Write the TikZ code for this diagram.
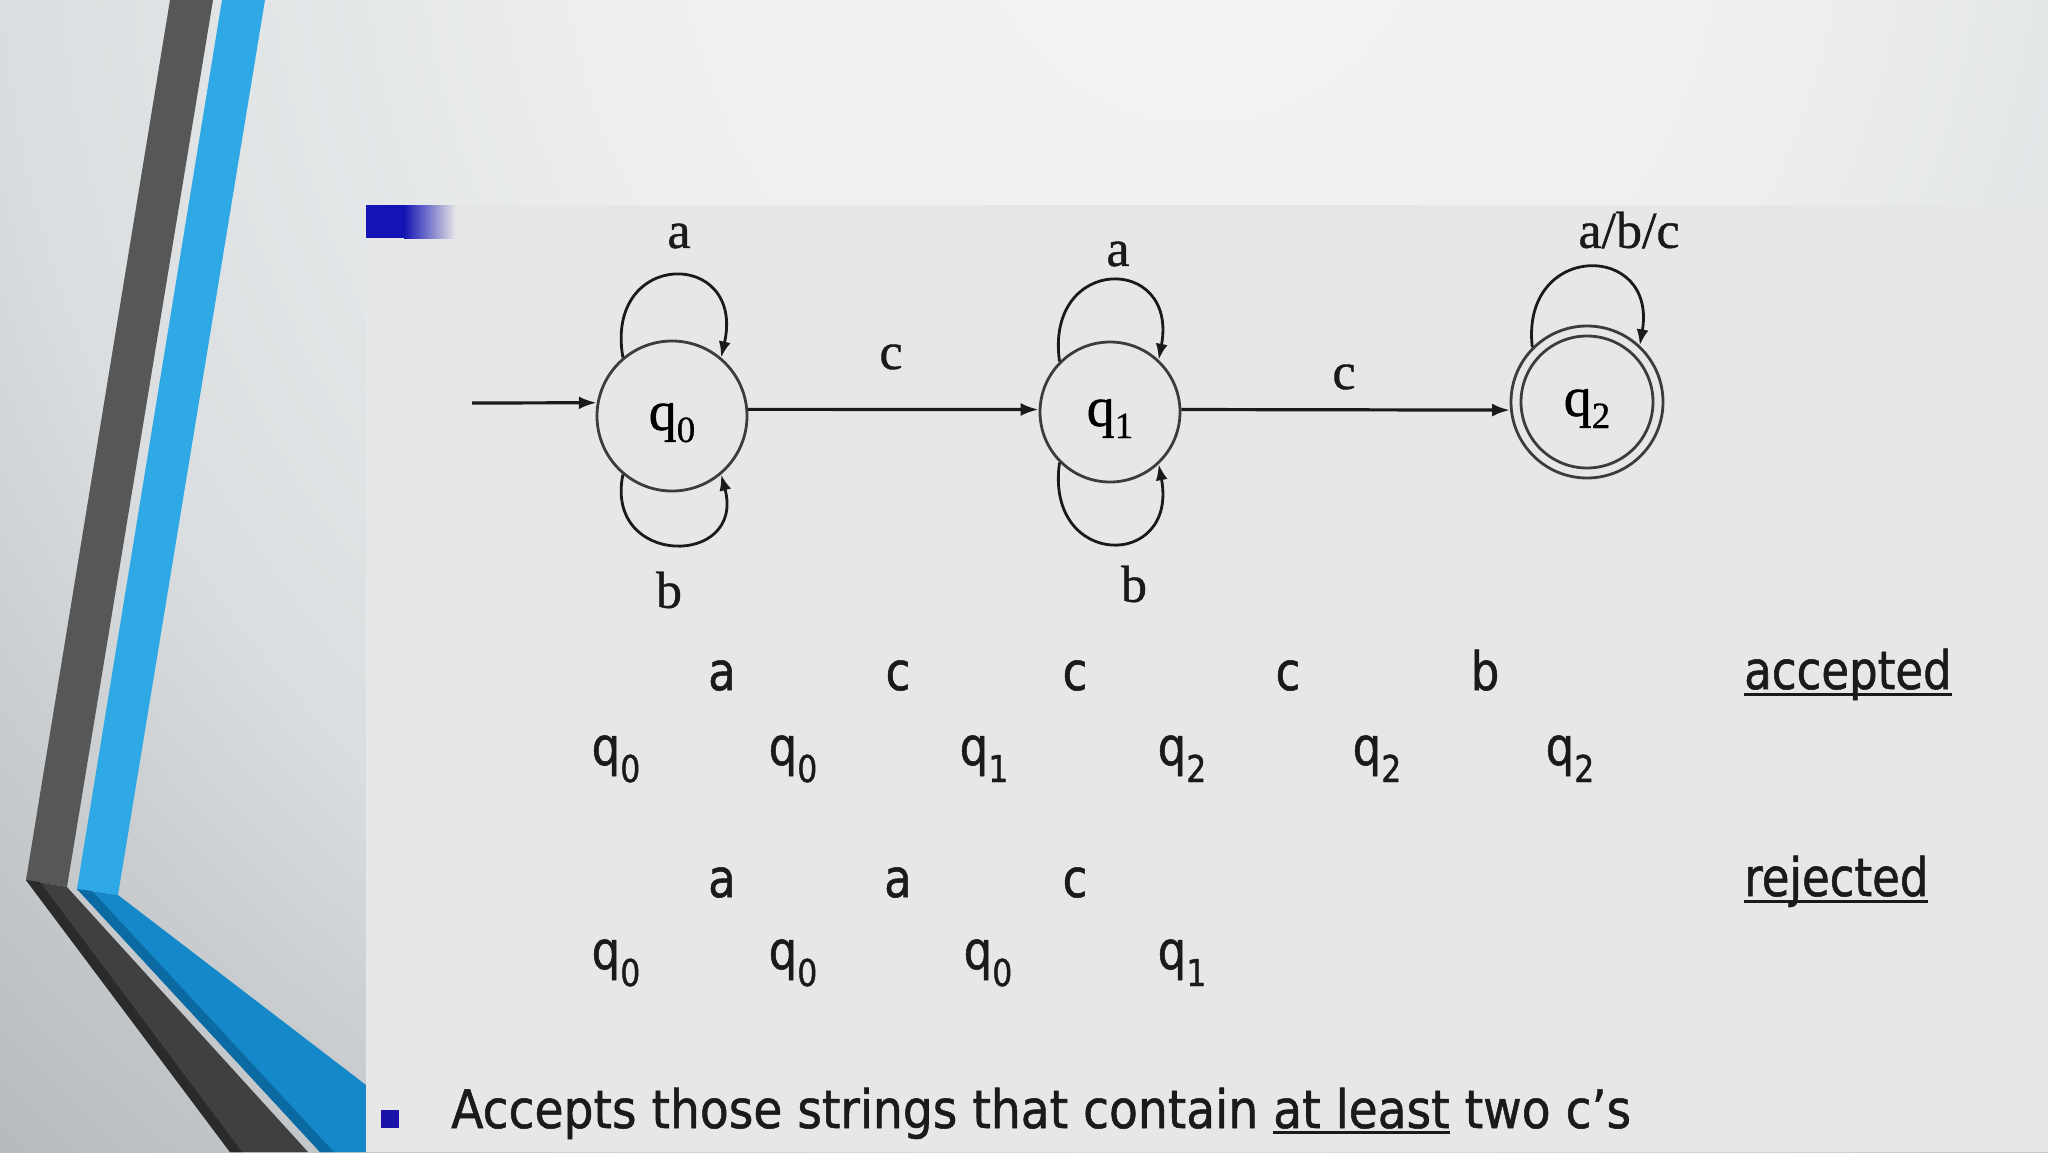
\documentclass[tikz,border=0pt]{standalone}
\usepackage{fontspec}
\setmainfont{Liberation Serif}
\newfontfamily\tms[FakeBold=0.8]{Liberation Serif}
\newfontfamily\tahA[FakeStretch=0.89,FakeBold=1]{DejaVu Sans}
\newfontfamily\tahB[FakeStretch=0.85,FakeBold=1]{DejaVu Sans}
\usetikzlibrary{arrows.meta}
\definecolor{bgA}{HTML}{F3F3F3}
\definecolor{bgB}{HTML}{EEEFEF}
\definecolor{bgC}{HTML}{E5E8E9}
\definecolor{bgD}{HTML}{DADEE0}
\definecolor{bgE}{HTML}{CBCFD1}
\definecolor{bgF}{HTML}{B5B9BC}
\definecolor{panel}{HTML}{E7E7E7}
\definecolor{darkA}{HTML}{575757}
\definecolor{darkB}{HTML}{404040}
\definecolor{darkC}{HTML}{2A2A2A}
\definecolor{blueA}{HTML}{2EA9E6}
\definecolor{blueB}{HTML}{1488C8}
\definecolor{blueC}{HTML}{0C6AA2}
\definecolor{sqblue}{HTML}{1414B4}
\definecolor{bullet}{HTML}{1A12A8}
\definecolor{ink}{HTML}{1A1A1A}
% half-size of the shaded path = 25bp; path half-size 1300pt -> 1bp = 52pt
\pgfdeclareradialshading{bgshade}{\pgfpoint{0bp}{0bp}}{color(0bp)=(bgA); color(11.5bp)=(bgB); color(16.3bp)=(bgC); color(23bp)=(bgD); color(27bp)=(bgE); color(33.7bp)=(bgF); color(50bp)=(bgF)}
\newcommand\myul[2]{\setbox0\hbox{#2}\rlap{\rule[-#1]{\wd0}{3.4pt}}\box0\relax}
\newcommand\tq[1]{q\raisebox{-17pt}{\fontsize{37}{37}\selectfont #1}}
\newcommand\sq[1]{q\raisebox{-12pt}{\fontsize{37}{37}\selectfont #1}}
\begin{document}
\begin{tikzpicture}[x=1pt,y=-1pt,
  state/.style={circle,draw=ink!85,line width=2.8pt,inner sep=0pt,text height=40pt,text depth=12pt,font=\tms\fontsize{56}{56}\selectfont},
  arr/.style={line width=3.2pt,draw=ink,-{Latex[length=18pt,width=13pt]}},
  looparr/.style={line width=2.8pt,draw=ink,-{Latex[length=16pt,width=12pt]}},
  lbl/.style={font=\tms\fontsize{52}{52}\selectfont,inner sep=0pt,text=ink},
  sym/.style={font=\tahB\fontsize{53}{53}\selectfont,anchor=base,inner sep=0pt,text=ink}]
\useasboundingbox (0,0) rectangle (2048,1152);
% background
\begin{scope}
\clip (0,0) rectangle (2048,1152);
\shade[shading=bgshade] (-100,-1400) rectangle (2500,1200);
\end{scope}
% stripes
\fill[darkA] (170,0) -- (213,0) -- (67,887) -- (26,880) -- cycle;
\fill[blueA] (222,0) -- (265,0) -- (118,895) -- (77,889) -- cycle;
\fill[darkB] (26,880) -- (67,887) -- (308,1152) -- (230,1152) -- cycle;
\fill[darkC] (26,880) -- (230,1152) -- (242,1152) -- (40,882) -- cycle;
\fill[blueB] (77,889) -- (118,895) -- (366,1085) -- (366,1152) -- (320,1152) -- cycle;
\fill[blueC] (77,889) -- (320,1152) -- (334,1152) -- (92,891) -- cycle;
% panel
\fill[panel] (366,205) rectangle (2048,1152);
\fill[sqblue] (366,205) rectangle (404,238);
\shade[left color=sqblue, right color=panel] (404,205) rectangle (456,238);
% automaton
\node[state,minimum size=150pt] (q0) at (672,416) {\sq{0}};
\node[state,minimum size=140pt] (q1) at (1110,412) {\sq{1}};
\node[state,minimum size=152pt] (q2) at (1587,402) {\sq{2}};
\draw[ink!85,line width=2.8pt] (q2.center) circle (66);
\coordinate (st) at (472,403);
\draw[arr] (st) -- (q0.170);
\draw[arr] (q0.5) -- (q1.178);
\draw[arr] (q1.2) -- (q2.186);
\draw[looparr] (q0.130) .. controls +(-19,-109) and +(25,-109) .. (q0.50);
\draw[looparr] (q0.230) .. controls +(-19,93) and +(25,93) .. (q0.310);
\draw[looparr] (q1.135) .. controls +(-15,-107) and +(20,-106) .. (q1.47);
\draw[looparr] (q1.225) .. controls +(-15,107) and +(20,106) .. (q1.313);
\draw[looparr] (q2.135) .. controls +(-12,-106) and +(18,-104) .. (q2.47);
\node[lbl] (la0) at (679,236) {a};
\node[lbl] (lb0) at (669,590) {b};
\node[lbl] (lc0) at (891,357) {c};
\node[lbl] (la1) at (1118,254) {a};
\node[lbl] (lb1) at (1134,584) {b};
\node[lbl] (lc1) at (1344,377) {c};
\node[lbl] (la2) at (1629,230) {a/b/c};
% traces
\node[sym] (r1a) at (722,690) {a};
\node[sym] (r1b) at (898,690) {c};
\node[sym] (r1c) at (1075,690) {c};
\node[sym] (r1d) at (1288,690) {c};
\node[sym] (r1e) at (1485,690) {b};
\node[sym,anchor=base west] (acc) at (1744,689) {\myul{7pt}{accepted}};
\node[sym] (r2a) at (616,765) {\tq{0}};
\node[sym] (r2b) at (793,765) {\tq{0}};
\node[sym] (r2c) at (984,765) {\tq{1}};
\node[sym] (r2d) at (1182,765) {\tq{2}};
\node[sym] (r2e) at (1377,765) {\tq{2}};
\node[sym] (r2f) at (1570,765) {\tq{2}};
\node[sym] (r3a) at (722,897) {a};
\node[sym] (r3b) at (898,897) {a};
\node[sym] (r3c) at (1075,897) {c};
\node[sym,anchor=base west] (rej) at (1744,896) {\myul{7pt}{rejected}};
\node[sym] (r4a) at (616,969) {\tq{0}};
\node[sym] (r4b) at (793,969) {\tq{0}};
\node[sym] (r4c) at (988,969) {\tq{0}};
\node[sym] (r4d) at (1182,969) {\tq{1}};
% bullet
\fill[bullet] (381,1110) rectangle (399,1128);
\node[anchor=base west,inner sep=0pt,text=ink,font=\tahA\fontsize{53}{53}\selectfont] (sent) at (451,1128) {Accepts those strings that contain \myul{6pt}{at least} two c’s};
\end{tikzpicture}
\end{document}
